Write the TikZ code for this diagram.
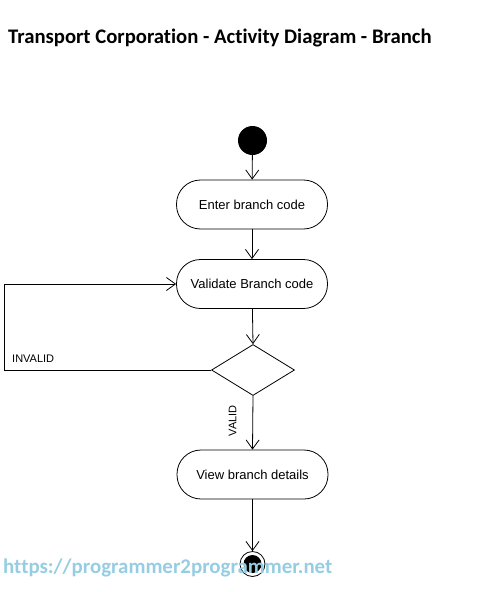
\documentclass[tikz,border=0pt]{standalone}
\usepackage{fontspec}
\setmainfont{Liberation Sans}
\newfontfamily\titlefont[Ligatures=NoCommon]{Carlito}
\usetikzlibrary{arrows.meta,shapes.geometric}
\definecolor{wm}{RGB}{150,205,226}
\begin{document}
\begin{tikzpicture}[x=1pt,y=-1pt,
  act/.style={draw, line width=0.8pt, rounded corners=24pt, minimum width=151pt, minimum height=49pt, inner sep=0pt, font=\fontsize{13}{15}\selectfont},
  arr/.style={draw, line width=0.8pt, -{Straight Barb[length=9pt,width=13pt,line width=0.8pt]}},
  lab/.style={font=\fontsize{11}{13}\selectfont, inner sep=0pt}]
\useasboundingbox (0,0) rectangle (480,592);
\node[anchor=base west, inner sep=0pt, font=\titlefont\bfseries\fontsize{20.7}{24}\selectfont] (title) at (8,43) {Transport Corporation - Activity Diagram - Branch};
\node[circle, fill=black, minimum size=29pt, inner sep=0pt] (start) at (252.5,140.5) {};
\node[act] (enter) at (252,204.5) {Enter branch code};
\node[act] (val) at (252,284) {Validate Branch code};
\node[diamond, draw, line width=0.8pt, minimum width=83pt, minimum height=51pt, inner sep=0pt, aspect=1.63] (dec) at (253,370) {};
\node[act] (view) at (252.5,474.5) {View branch details};
\node[circle, draw, line width=0.8pt, fill=white, minimum size=25pt, inner sep=0pt] (end) at (252.5,564) {};
\node[circle, fill=black, minimum size=18pt, inner sep=0pt] (endin) at (end.center) {};
\coordinate (corner) at (4,370);
\draw[arr] (start) -- (enter);
\draw[arr] (enter) -- (val);
\draw[arr] (val) -- (dec.north);
\draw[arr] (dec.west) -- (corner) |- (val.west);
\draw[arr] (dec.south) -- (view.north);
\draw[arr] (view.south) -- (end.north);
\node[lab, rotate=90] (valid) at (232.5,421) {VALID};
\node[lab, anchor=base west] (invalid) at (12,362.5) {INVALID};
\node[anchor=base west, inner sep=0pt, text=wm, font=\titlefont\bfseries\fontsize{20.9}{24}\selectfont] (wmark) at (3,573) {https://programmer2programmer.net};
\end{tikzpicture}
\end{document}
